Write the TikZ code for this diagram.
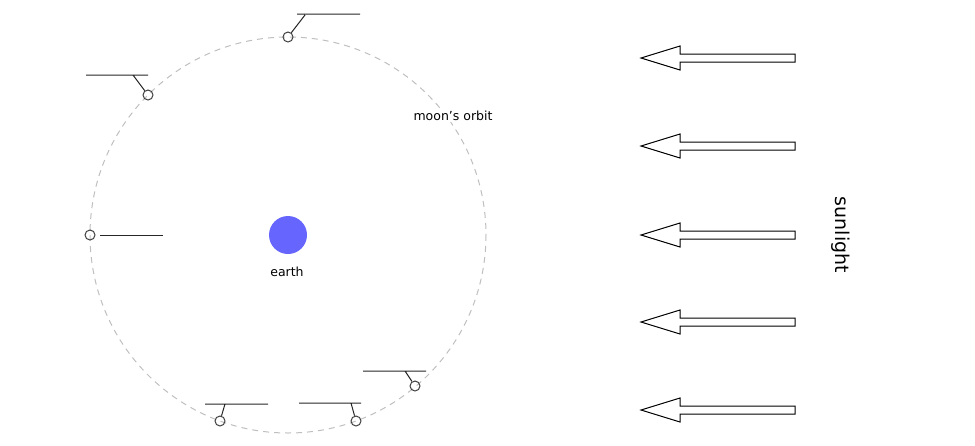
\documentclass[tikz,border=0pt]{standalone}
\usepackage{fontspec}
\setmainfont{DejaVu Sans}
\begin{document}
\begin{tikzpicture}[x=1pt,y=-1pt,
  moon/.style={circle,draw=black!75,line width=1pt,inner sep=0pt,minimum size=10pt},
  stick/.style={line width=1pt,black!85},
  orbit/.style={draw=black!25,line width=1pt,dash pattern=on 6pt off 5pt},
  sun/.style={draw=black,line width=1pt,fill=white,line join=miter}]
\useasboundingbox (0,0) rectangle (975,445);
\draw[orbit] (288,235) circle (198);
\node[fill=white,inner sep=1pt,font=\fontsize{12.5}{14}\selectfont] (orb) at (453,116) {moon’s orbit};
\node[circle,fill=blue!60,minimum size=38pt,inner sep=0pt] (earth) at (288,235) {};
\node[font=\fontsize{12.5}{14}\selectfont] (el) at (287,272) {earth};
% moons
\node[moon] (m1) at (288,37) {};
\coordinate (m1a) at (305,15);
\draw[stick] (m1) -- (m1a) (297,14) -- (360,14);
\node[moon] (m2) at (148,95) {};
\coordinate (m2a) at (133,75);
\draw[stick] (m2) -- (m2a) (86,75) -- (148,75);
\node[moon] (m3) at (90,235) {};
\coordinate (m3a) at (163,235);
\draw[stick] (m3)++(10,0) -- (m3a);
\node[moon] (m4) at (220,421) {};
\coordinate (m4a) at (225,404);
\draw[stick] (m4) -- (m4a) (205,404) -- (268,404);
\node[moon] (m5) at (356,421) {};
\coordinate (m5a) at (351,403);
\draw[stick] (m5) -- (m5a) (299,403) -- (361,403);
\node[moon] (m6) at (415,386) {};
\coordinate (m6a) at (405,371);
\draw[stick] (m6) -- (m6a) (363,371) -- (426,371);
% sunlight arrows
\foreach \y in {58,146,235,322,410}{
  \draw[sun] (795,\y-4) -- (680,\y-4) -- (680,\y-12) -- (641,\y) -- (680,\y+12) -- (680,\y+4) -- (795,\y+4) -- cycle;
}
\node[rotate=-90,font=\fontsize{19}{22}\selectfont] (sl) at (841,235) {sunlight};
\end{tikzpicture}
\end{document}
